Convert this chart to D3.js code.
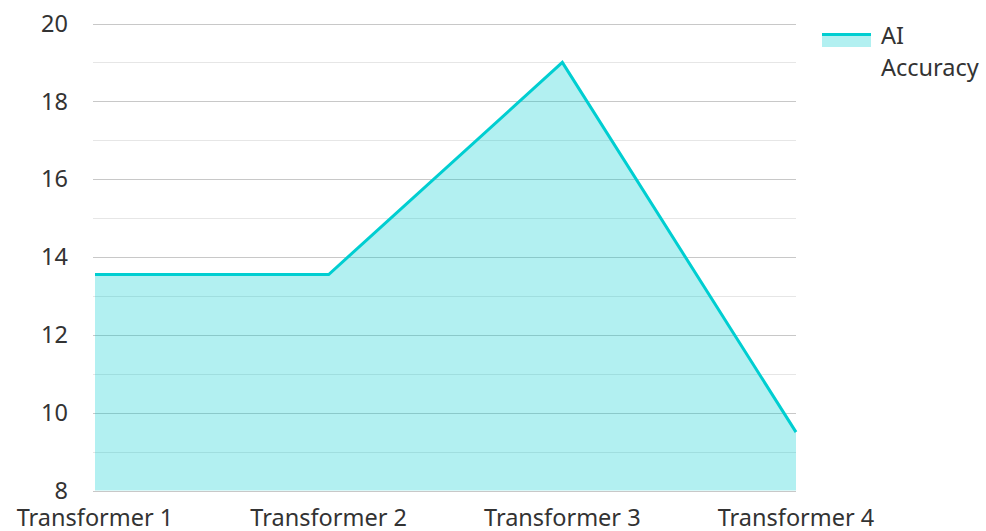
<!DOCTYPE html>
<html><head><meta charset="utf-8">
<script src="https://cdn.jsdelivr.net/npm/d3@7/dist/d3.min.js"></script>
<style>body{margin:0;background:#fff}svg{display:block}text{font-family:"Noto Sans",sans-serif}</style>
</head><body><svg id="c" width="986" height="531"></svg>
<script>
const categories = ["Transformer 1","Transformer 2","Transformer 3","Transformer 4"];
const accuracy = [13.55, 13.55, 19.0, 9.5];
const yTicks = [8,10,12,14,16,18,20];
const seriesName = ["AI","Accuracy"];

(function(){
const svg = d3.select("#c");
const pLeft = 95, pRight = 796, pTop = 23.5, pBottom = 490.5;
const x = d3.scalePoint().domain(categories).range([pLeft, pRight]);
const y = d3.scaleLinear().domain([8,20]).range([pBottom, pTop]);
const color = "#00CED1";
const fs = 23.5;

// grid
const g = svg.append("g");
const minor = d3.range(9, 20, 2);
g.selectAll(".minor").data(minor).join("line")
  .attr("x1", 93).attr("x2", pRight).attr("y1", d=>Math.round(y(d))+0.5).attr("y2", d=>Math.round(y(d))+0.5)
  .attr("stroke", "#e6e6e6").attr("stroke-width", 1);
g.selectAll(".major").data(yTicks).join("line")
  .attr("x1", 93).attr("x2", pRight).attr("y1", d=>Math.round(y(d))+0.5).attr("y2", d=>Math.round(y(d))+0.5)
  .attr("stroke", "#c8c8c8").attr("stroke-width", 1);

// area
const data = categories.map((c,i)=>({c, v: accuracy[i]}));
svg.append("path").datum(data)
  .attr("d", d3.area().x(d=>x(d.c)).y0(y(8)).y1(d=>y(d.v)))
  .attr("fill", color).attr("fill-opacity", 0.3);
svg.append("path").datum(data)
  .attr("d", d3.line().x(d=>x(d.c)).y(d=>y(d.v)))
  .attr("fill", "none").attr("stroke", color).attr("stroke-width", 3);

// y labels
svg.selectAll(".yl").data(yTicks).join("text")
  .attr("x", 68).attr("y", d=>y(d)).attr("dy", "0.35em")
  .attr("text-anchor", "end").attr("font-size", fs).attr("fill", "#333")
  .text(d=>d);
// x labels
svg.selectAll(".xl").data(categories).join("text")
  .attr("x", d=>x(d)).attr("y", 526)
  .attr("text-anchor", "middle").attr("font-size", fs).attr("fill", "#333")
  .text(d=>d);

// legend
const lg = svg.append("g");
lg.append("rect").attr("x", 822).attr("y", 33).attr("width", 49).attr("height", 14).attr("fill", color).attr("fill-opacity", 0.3);
lg.append("line").attr("x1", 822).attr("x2", 871).attr("y1", 34.5).attr("y2", 34.5).attr("stroke", color).attr("stroke-width", 3);
lg.selectAll("text").data(seriesName).join("text")
  .attr("x", 881).attr("y", (d,i)=>44 + i*32)
  .attr("font-size", fs).attr("fill", "#333").text(d=>d);
})();
</script></body></html>
